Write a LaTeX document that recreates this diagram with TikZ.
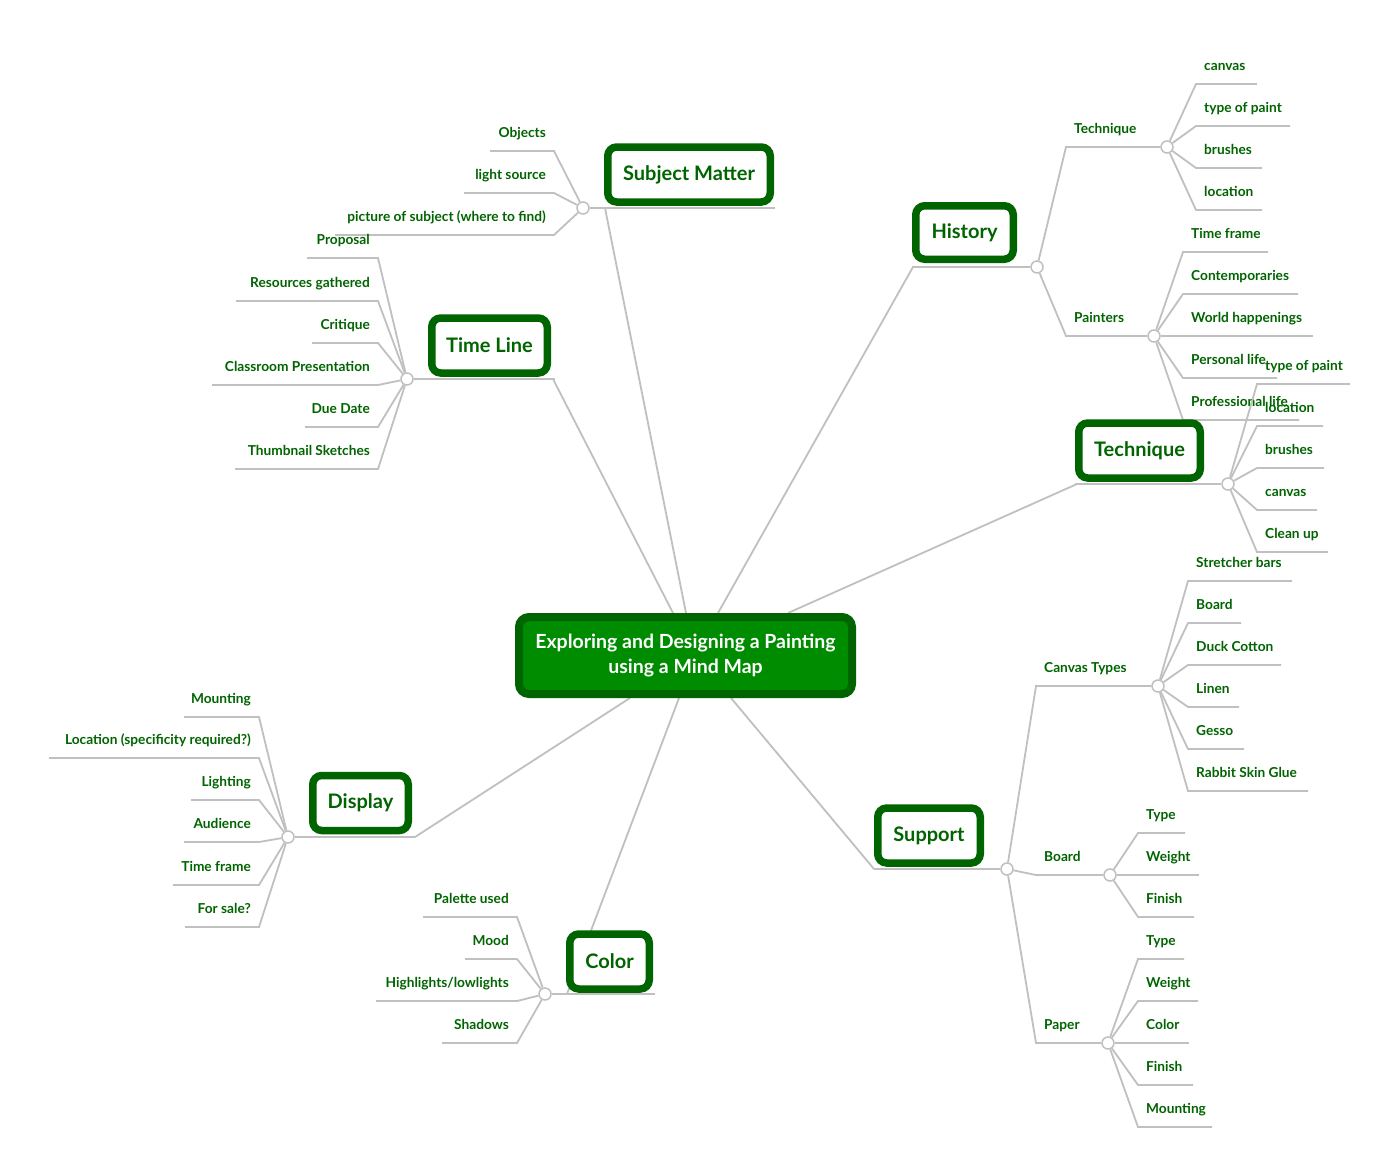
\documentclass[tikz,border=0pt]{standalone}
\usepackage{fontspec}
\setmainfont{Lato}
\definecolor{dg}{RGB}{0,100,0}
\definecolor{cg}{RGB}{0,140,0}
\definecolor{ln}{RGB}{192,192,192}
\newcommand\leaffont{\fontsize{13.7}{16}\selectfont\bfseries}
\newcommand\topicfont{\fontsize{20}{24}\selectfont\bfseries}
\newcommand\rootfont{\fontsize{19.5}{25}\selectfont\bfseries}
\tikzset{
  branch/.style={draw=ln, line width=1.8pt},
  hub/.style={circle, draw=ln, fill=white, line width=1.5pt, minimum size=12pt, inner sep=0pt},
  leaf/.style={text=dg, font=\leaffont, inner sep=0pt},
  topic/.style={draw=dg, fill=white, line width=7.5pt, rounded corners=9pt, text=dg, font=\topicfont, inner sep=0pt, minimum height=55pt},
  rootbox/.style={draw=dg, fill=cg, line width=8pt, rounded corners=10pt, text=white, font=\rootfont, align=center, inner sep=0pt, minimum width=333pt, minimum height=77pt}
}
% right-hand leaf: parent, x0, y, x1, text, name
\newcommand\RLeaf[6]{%
  \coordinate (#6s) at (#2,#3);
  \coordinate (#6e) at (#4,#3);
  \draw[branch] (#1) -- (#6s) -- (#6e);
  \node[leaf,anchor=base west] (#6) at (#2+8,#3-14) {#5};}
% left-hand leaf
\newcommand\LLeaf[6]{%
  \coordinate (#6s) at (#2,#3);
  \coordinate (#6e) at (#4,#3);
  \draw[branch] (#1) -- (#6s) -- (#6e);
  \node[leaf,anchor=base east] (#6) at (#2-8,#3-14) {#5};}
\begin{document}
\begin{tikzpicture}[x=1pt,y=-1pt]
\useasboundingbox[fill=white] (0,0) rectangle (1400,1175);

% hubs
\node[hub] (hsm) at (583,208) {};
\node[hub] (htl) at (407,379) {};
\node[hub] (hhi) at (1037,267) {};
\node[hub] (hht) at (1167,147) {};
\node[hub] (hpa) at (1154,336) {};
\node[hub] (hte) at (1228,484) {};
\node[hub] (hsu) at (1007,869) {};
\node[hub] (hct) at (1158,686) {};
\node[hub] (hbo) at (1110,875) {};
\node[hub] (hpp) at (1108,1043) {};
\node[hub] (hco) at (545,994) {};
\node[hub] (hdi) at (288,837) {};

% root attachment points
\coordinate (r-sm) at (686,613);
\coordinate (r-tl) at (673,613);
\coordinate (r-hi) at (718,613);
\coordinate (r-te) at (788,613);
\coordinate (r-su) at (731,698);
\coordinate (r-co) at (679,698);
\coordinate (r-di) at (630,698);

% topic underline ends / attachment points
\coordinate (u-sm) at (775,208);   \coordinate (a-sm) at (605,208);
\coordinate (u-tl) at (555,379);   \coordinate (a-tl) at (553,379);
\coordinate (u-hi) at (912,267);   \coordinate (a-hi) at (913,267);
\coordinate (u-te) at (1075,484);  \coordinate (a-te) at (1077,484);
\coordinate (u-su) at (874,869);   \coordinate (a-su) at (874,869);
\coordinate (u-co) at (655,994);   \coordinate (a-co) at (567,994);
\coordinate (u-di) at (415,837);   \coordinate (a-di) at (415,837);

\draw[branch] (hsm) -- (u-sm);
\draw[branch] (htl) -- (u-tl);
\draw[branch] (hhi) -- (u-hi);
\draw[branch] (hte) -- (u-te);
\draw[branch] (hsu) -- (u-su);
\draw[branch] (hco) -- (u-co);
\draw[branch] (hdi) -- (u-di);

\draw[branch] (a-sm) -- (r-sm);
\draw[branch] (a-tl) -- (r-tl);
\draw[branch] (a-hi) -- (r-hi);
\draw[branch] (a-te) -- (r-te);
\draw[branch] (a-su) -- (r-su);
\draw[branch] (a-co) -- (r-co);
\draw[branch] (a-di) -- (r-di);

% Subject Matter
\LLeaf{hsm}{554}{151}{490}{Objects}{sm1}
\LLeaf{hsm}{554}{193}{464}{light source}{sm2}
\LLeaf{hsm}{554}{235}{335}{picture of subject (where to find)}{sm3}

% Time Line
\LLeaf{htl}{378}{258}{307}{Proposal}{tl1}
\LLeaf{htl}{378}{301}{236}{Resources gathered}{tl2}
\LLeaf{htl}{378}{343}{312}{Critique}{tl3}
\LLeaf{htl}{378}{385}{212}{Classroom Presentation}{tl4}
\LLeaf{htl}{378}{427}{305}{Due Date}{tl5}
\LLeaf{htl}{378}{469}{235}{Thumbnail Sketches}{tl6}

% History
\coordinate (ht-s) at (1066,147);
\draw[branch] (hhi) -- (ht-s) -- (hht);
\node[leaf,anchor=base west] (htlab) at (1074,133) {Technique};
\RLeaf{hht}{1196}{84}{1257}{canvas}{ht1}
\RLeaf{hht}{1196}{126}{1290}{type of paint}{ht2}
\RLeaf{hht}{1196}{168}{1262}{brushes}{ht3}
\RLeaf{hht}{1196}{210}{1262}{location}{ht4}

\coordinate (pa-s) at (1066,336);
\draw[branch] (hhi) -- (pa-s) -- (hpa);
\node[leaf,anchor=base west] (palab) at (1074,322) {Painters};
\RLeaf{hpa}{1183}{252}{1268}{Time frame}{pa1}
\RLeaf{hpa}{1183}{294}{1298}{Contemporaries}{pa2}
\RLeaf{hpa}{1183}{336}{1313}{World happenings}{pa3}
\RLeaf{hpa}{1183}{378}{1277}{Personal life}{pa4}
\RLeaf{hpa}{1183}{420}{1299}{Professional life}{pa5}

% Technique
\RLeaf{hte}{1257}{384}{1350}{type of paint}{te1}
\RLeaf{hte}{1257}{426}{1323}{location}{te2}
\RLeaf{hte}{1257}{468}{1324}{brushes}{te3}
\RLeaf{hte}{1257}{510}{1317}{canvas}{te4}
\RLeaf{hte}{1257}{552}{1328}{Clean up}{te5}

% Support
\coordinate (ct-s) at (1036,686);
\draw[branch] (hsu) -- (ct-s) -- (hct);
\node[leaf,anchor=base west] (ctlab) at (1044,672) {Canvas Types};
\RLeaf{hct}{1188}{581}{1292}{Stretcher bars}{ct1}
\RLeaf{hct}{1188}{623}{1241}{Board}{ct2}
\RLeaf{hct}{1188}{665}{1281}{Duck Cotton}{ct3}
\RLeaf{hct}{1188}{707}{1239}{Linen}{ct4}
\RLeaf{hct}{1188}{749}{1244}{Gesso}{ct5}
\RLeaf{hct}{1188}{791}{1308}{Rabbit Skin Glue}{ct6}

\coordinate (bo-s) at (1036,875);
\draw[branch] (hsu) -- (bo-s) -- (hbo);
\node[leaf,anchor=base west] (bolab) at (1044,861) {Board};
\RLeaf{hbo}{1138}{833}{1185}{Type}{bo1}
\RLeaf{hbo}{1138}{875}{1199}{Weight}{bo2}
\RLeaf{hbo}{1138}{917}{1194}{Finish}{bo3}

\coordinate (pp-s) at (1036,1043);
\draw[branch] (hsu) -- (pp-s) -- (hpp);
\node[leaf,anchor=base west] (pplab) at (1044,1029) {Paper};
\RLeaf{hpp}{1138}{959}{1184}{Type}{pp1}
\RLeaf{hpp}{1138}{1001}{1198}{Weight}{pp2}
\RLeaf{hpp}{1138}{1043}{1189}{Color}{pp3}
\RLeaf{hpp}{1138}{1085}{1193}{Finish}{pp4}
\RLeaf{hpp}{1138}{1127}{1212}{Mounting}{pp5}

% Color
\LLeaf{hco}{517}{917}{423}{Palette used}{co1}
\LLeaf{hco}{517}{959}{465}{Mood}{co2}
\LLeaf{hco}{517}{1001}{376}{Highlights/lowlights}{co3}
\LLeaf{hco}{517}{1043}{442}{Shadows}{co4}

% Display
\LLeaf{hdi}{259}{717}{184}{Mounting}{di1}
\LLeaf{hdi}{259}{758}{49}{Location (specificity required?)}{di2}
\LLeaf{hdi}{259}{800}{191}{Lighting}{di3}
\LLeaf{hdi}{259}{842}{184}{Audience}{di4}
\LLeaf{hdi}{259}{885}{173}{Time frame}{di5}
\LLeaf{hdi}{259}{927}{185}{For sale?}{di6}

% boxes
\node[rootbox] (root) at (685.5,655.5) {Exploring and Designing a Painting\\using a Mind Map};
\node[topic, minimum width=162.5pt] (sm) at (689,174.5) {Subject Matter};
\node[topic, minimum width=115.5pt] (tl) at (489.5,345.5) {Time Line};
\node[topic, minimum width=97.5pt, minimum height=53.5pt] (hi) at (964.5,232.5) {History};
\node[topic, minimum width=121.5pt] (te) at (1139.5,450.5) {Technique};
\node[topic, minimum width=102.5pt] (su) at (929,835.5) {Support};
\node[topic, minimum width=79.5pt] (co) at (609.5,961.5) {Color};
\node[topic, minimum width=95.5pt] (di) at (360.5,803) {Display};
\end{tikzpicture}
\end{document}
